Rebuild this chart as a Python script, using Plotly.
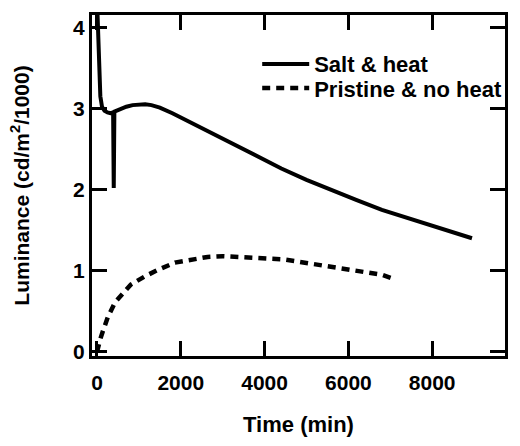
import plotly.graph_objects as go

# Salt & heat (linea continua)
salt_t = [0, 20, 50, 80, 120, 180, 250, 320, 385, 400, 415, 500, 600, 700, 850, 1000, 1150, 1300, 1500,
          1800, 2100, 2450, 3000, 3400, 3800, 4400, 5000, 5600, 6200, 6800, 7400, 8000, 8500, 8950]
salt_lum = [4.35, 4.0, 3.5, 3.15, 3.02, 2.97, 2.95, 2.94, 2.95, 2.02, 2.96, 2.98, 3.00, 3.02, 3.04, 3.05, 3.05, 3.04, 3.01,
            2.94, 2.86, 2.77, 2.63, 2.52, 2.41, 2.26, 2.12, 1.99, 1.87, 1.75, 1.65, 1.55, 1.47, 1.40]

# Pristine & no heat (linea punteada)
prist_t = [0, 30, 80, 150, 260, 430, 570, 810, 1140, 1450, 1860, 2240, 2640, 3000,
           3360, 3700, 4050, 4450, 4830, 5200, 5620, 6000, 6430, 6800, 7080]
prist_lum = [0.0, 0.07, 0.16, 0.27, 0.43, 0.61, 0.69, 0.83, 0.93, 1.01, 1.10, 1.14, 1.17, 1.18,
             1.17, 1.17, 1.16, 1.14, 1.11, 1.08, 1.05, 1.02, 0.99, 0.95, 0.90]

x_ticks = [0, 2000, 4000, 6000, 8000]
y_ticks = [0, 1, 2, 3, 4]
x_rango = [-119, 9738]
y_rango = [-0.05, 4.15]

fuente = "Liberation Sans, Arial, sans-serif"
letra_leyenda = dict(family=fuente, size=22, color="black", weight="bold")

fig = go.Figure()
fig.add_trace(go.Scatter(x=salt_t, y=salt_lum, mode="lines", name="Salt & heat",
                         line=dict(color="black", width=4), legend="legend"))
fig.add_trace(go.Scatter(x=prist_t, y=prist_lum, mode="lines", name="Pristine & no heat",
                         line=dict(color="black", width=4.5, dash="8px,6px"), legend="legend2"))

ejes = dict(
    showline=True, linecolor="black", linewidth=3, mirror="ticks",
    ticks="inside", ticklen=15, tickwidth=2.5, tickcolor="black",
    showgrid=False, zeroline=False,
    tickfont=dict(family=fuente, size=21, color="black", weight="bold"),
)

fig.update_layout(
    xaxis=dict(ejes, range=x_rango, tickvals=x_ticks, ticklabelstandoff=6,
               title=dict(text="Time (min)", standoff=24,
                          font=dict(family=fuente, size=22, color="black", weight="bold"))),
    yaxis=dict(ejes, range=y_rango, tickvals=y_ticks,
               title=dict(text="Luminance (cd/m<sup>2</sup>/1000)", standoff=38,
                          font=dict(family=fuente, size=21, color="black", weight="bold"))),
)

# una leyenda por serie para ubicar cada renglon
fig.update_layout(
    width=520, height=446,
    margin=dict(l=92, r=14, t=14, b=79),
    plot_bgcolor="white", paper_bgcolor="white",
    showlegend=True,
    legend=dict(x=0.40, y=0.856, xanchor="left", yanchor="middle", itemwidth=47,
                bgcolor="rgba(0,0,0,0)", borderwidth=0, font=letra_leyenda),
    legend2=dict(x=0.40, y=0.785, xanchor="left", yanchor="middle", itemwidth=47,
                 bgcolor="rgba(0,0,0,0)", borderwidth=0, font=letra_leyenda),
)

# quitar el margen del body para que el grafico ocupe toda la ventana
fig.write_html("out.html", config={"displayModeBar": False},
               post_script="document.body.style.margin='0';document.body.style.overflow='hidden';")
